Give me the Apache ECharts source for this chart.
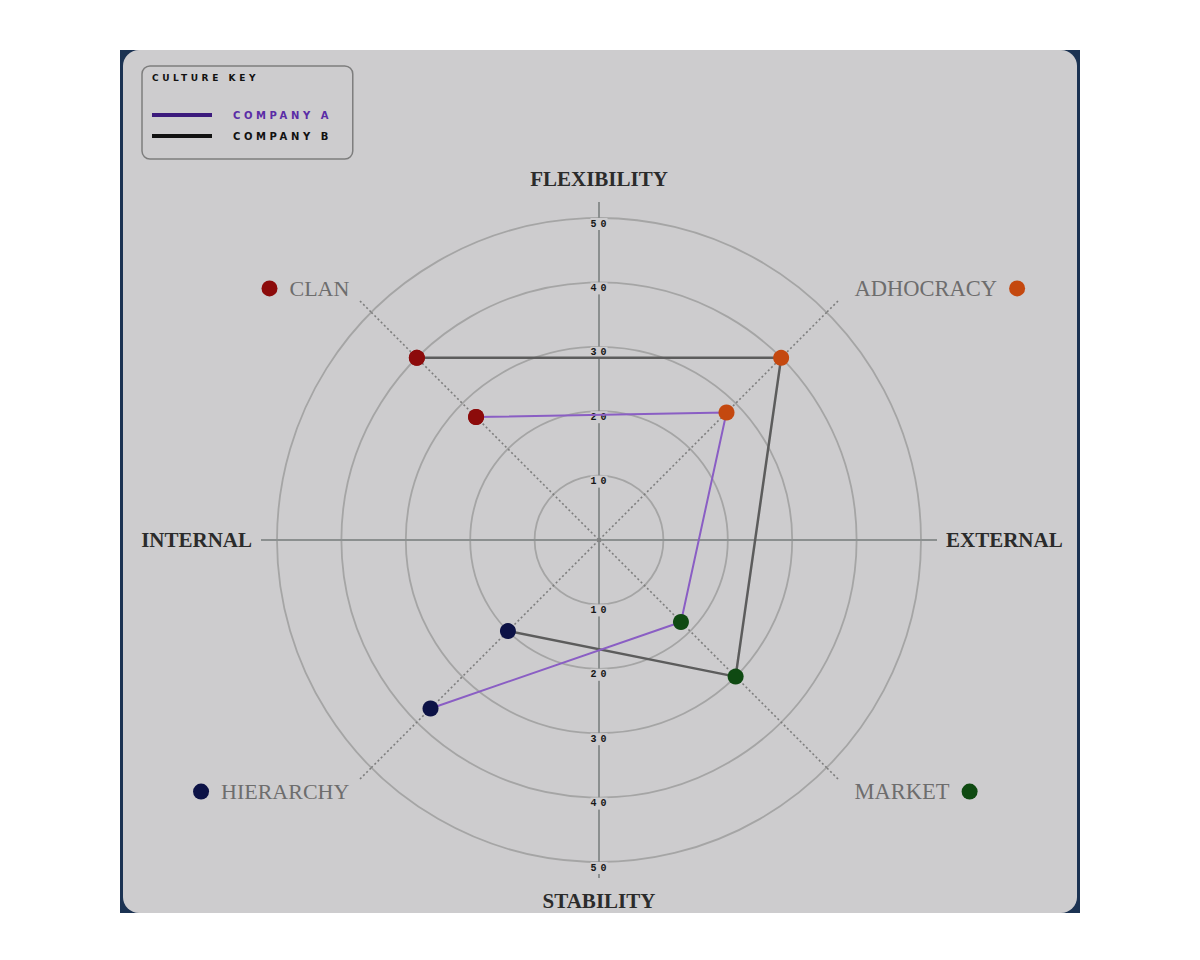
<!DOCTYPE html>
<html>
<head>
<meta charset="utf-8">
<script src="https://cdn.jsdelivr.net/npm/echarts@6/dist/echarts.min.js"></script>
<style>
html,body{margin:0;padding:0;background:#ffffff;width:1200px;height:960px;overflow:hidden}
#frame{position:absolute;left:120px;top:50px;width:960px;height:863px;background:#1b3252}
#panel{position:absolute;left:3px;top:0;right:3px;bottom:0;background:#cdccce;border-radius:16px}
#chart{position:absolute;left:0;top:0;width:1200px;height:960px}
#chart text[style*="DejaVu Sans"]{letter-spacing:3.6px}
#chart text[style*="Liberation Mono"]{letter-spacing:4px}
</style>
</head>
<body>
<div id="frame"><div id="panel"></div></div>
<div id="chart"></div>
<script>
// ---- data ----
const axisNames = ['FLEXIBILITY', 'EXTERNAL', 'STABILITY', 'INTERNAL'];
const cultures = ['CLAN', 'ADHOCRACY', 'MARKET', 'HIERARCHY'];
const cultureColors = ['#8c0b0b', '#c4480f', '#0f4a12', '#0c1246'];
const cultureLeftSide = [true, false, false, true];
const radiusMax = 50;
const radiusInterval = 10;
const seriesNames = ['COMPANY A', 'COMPANY B'];
const companyA = [27, 28, 18, 37];
const companyB = [40, 40, 30, 20];
const seriesColors = ['#8a5ec4', '#5c5c5c'];
const legendIconColors = ['#3b1a7c', '#111111'];
const legendTextColors = ['#5a2ca6', '#111111'];
const legendTitle = 'CULTURE KEY';

// ---- styles ----
const CENTER = [599, 540];
const RADIUS = 322;
const PANEL = '#cdccce';
const solidAxisColor = '#8b8f8f';
const ringColor = '#a5a5a5';
const KEY_FONT = 'DejaVu Sans';

const cultureRich = {
  nl: { fontFamily: 'Liberation Serif', fontSize: 22, color: '#6d6d6d', lineHeight: 4, padding: [0, 0, 0, 12] },
  nr: { fontFamily: 'Liberation Serif', fontSize: 22.5, color: '#6d6d6d', lineHeight: 4, padding: [0, 12, 0, 6] }
};
cultureColors.forEach(function (c, i) {
  cultureRich['d' + i] = { width: 16, height: 16, lineHeight: 4, borderRadius: 8, backgroundColor: c };
});

function polygon(vals) {
  const idx = cultures.map(function (_, i) { return i; }).concat([0]);
  return idx.map(function (k) {
    return { value: [vals[k], cultures[k]], itemStyle: { color: cultureColors[k] } };
  });
}

const radiusLabel = {
  show: true, margin: 0, align: 'center', verticalAlign: 'top',
  fontFamily: 'Liberation Mono', fontWeight: 'bold', fontSize: 10, color: '#161616',
  backgroundColor: PANEL, padding: [1, 1, 1, 4], showMinLabel: false
};

const chart = echarts.init(document.getElementById('chart'), null, { renderer: 'svg' });
chart.setOption({
  animation: false,
  backgroundColor: 'transparent',
  title: {
    text: legendTitle, left: 152, top: 73, padding: 0,
    textStyle: { fontFamily: KEY_FONT, fontWeight: 'bold', fontSize: 9, color: '#111111' }
  },
  legend: {
    left: 142, top: 66, orient: 'vertical',
    padding: [44, 53, 18, 10],
    itemWidth: 60, itemHeight: 4, itemGap: 11, icon: 'rect',
    borderColor: '#7d7d7d', borderWidth: 1.5, borderRadius: 8,
    selectedMode: false,
    data: seriesNames.map(function (n, i) {
      return { name: n, itemStyle: { color: legendIconColors[i], borderWidth: 0 }, textStyle: { color: legendTextColors[i] } };
    }),
    formatter: function (name) { return '{t|' + name + '}'; },
    textStyle: {
      fontFamily: KEY_FONT, fontWeight: 'bold', fontSize: 10,
      rich: { t: { fontFamily: KEY_FONT, fontWeight: 'bold', fontSize: 10, padding: [0, 0, 0, 16] } }
    }
  },
  polar: [
    { center: CENTER, radius: RADIUS },
    { center: CENTER, radius: RADIUS },
    { center: CENTER, radius: RADIUS }
  ],
  angleAxis: [
    {
      polarIndex: 0, type: 'category', data: axisNames, startAngle: 90, clockwise: true, boundaryGap: false,
      axisLine: { show: false },
      axisTick: { show: true, length: 16, lineStyle: { color: solidAxisColor, width: 2 } },
      splitLine: { show: true, lineStyle: { color: solidAxisColor, width: 2 } },
      axisLabel: { show: true, margin: 25, fontFamily: 'Liberation Serif', fontWeight: 'bold', fontSize: 21, color: '#2b2b2b', lineHeight: 28 }
    },
    {
      polarIndex: 1, type: 'category', data: cultures, startAngle: 135, clockwise: true, boundaryGap: false,
      axisLine: { show: false },
      axisTick: { show: true, length: 16, lineStyle: { color: '#7e7e7e', width: 1.6, type: [2, 2.5] } },
      splitLine: { show: true, lineStyle: { color: '#7e7e7e', width: 1.6, type: [2, 2.5] } },
      axisLabel: {
        show: true, margin: 31, rich: cultureRich,
        formatter: function (v) {
          const k = cultures.indexOf(v);
          return cultureLeftSide[k] ? '{d' + k + '|}{nl|' + v + '}' : '{nr|' + v + '}{d' + k + '|}';
        }
      }
    },
    { polarIndex: 2, type: 'value', min: 0, max: 360, startAngle: 270, clockwise: true,
      axisLine: { show: false }, axisTick: { show: false }, axisLabel: { show: false }, splitLine: { show: false } }
  ],
  radiusAxis: [
    {
      polarIndex: 0, type: 'value', min: 0, max: radiusMax, interval: radiusInterval,
      axisLine: { show: false }, axisTick: { show: false }, splitLine: { show: false },
      axisLabel: radiusLabel
    },
    {
      polarIndex: 1, type: 'value', min: 0, max: radiusMax, interval: radiusInterval,
      axisLine: { show: false }, axisTick: { show: false }, splitLine: { show: false }, axisLabel: { show: false }
    },
    {
      polarIndex: 2, type: 'value', min: 0, max: radiusMax, interval: radiusInterval,
      axisLine: { show: false }, axisTick: { show: false },
      splitLine: { show: true, lineStyle: { color: ringColor, width: 1.8 } },
      axisLabel: radiusLabel
    }
  ],
  series: [
    {
      name: seriesNames[0], type: 'line', coordinateSystem: 'polar', polarIndex: 1,
      data: polygon(companyA), symbol: 'circle', symbolSize: 16, showAllSymbol: true, z: 4,
      lineStyle: { color: seriesColors[0], width: 2 }, itemStyle: { color: seriesColors[0] }
    },
    {
      name: seriesNames[1], type: 'line', coordinateSystem: 'polar', polarIndex: 1,
      data: polygon(companyB), symbol: 'circle', symbolSize: 16, showAllSymbol: true, z: 3,
      lineStyle: { color: seriesColors[1], width: 2.5 }, itemStyle: { color: seriesColors[1] }
    }
  ]
});
</script>
</body>
</html>
